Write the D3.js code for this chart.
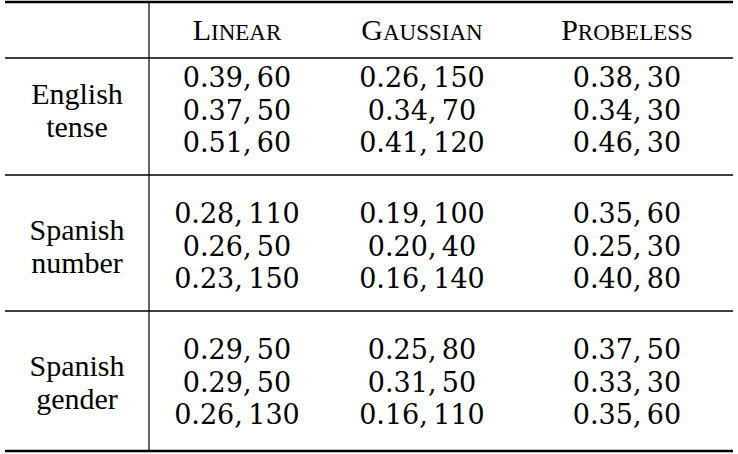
<!DOCTYPE html>
<html lang="en">
<head>
<meta charset="UTF-8">
<title>Probe results table</title>
<script src="https://d3js.org/d3.v7.min.js"></script>
<style>
  body { margin: 0; background: #fff; }
  text { font-family: "Liberation Serif", "Times New Roman", serif; fill: #000; }
  .num { font-family: "DejaVu Serif", "Liberation Serif", serif; }
</style>
</head>
<body>
<div id="chart"></div>
<script>
const methods = ["Linear", "Gaussian", "Probeless"];
const groups = [["English", "tense"], ["Spanish", "number"], ["Spanish", "gender"]];
// one row of [value, size] per method, three rows per group
const englishTense = [
  [[0.39, 60], [0.26, 150], [0.38, 30]],
  [[0.37, 50], [0.34, 70], [0.34, 30]],
  [[0.51, 60], [0.41, 120], [0.46, 30]]
];
const spanishNumber = [
  [[0.28, 110], [0.19, 100], [0.35, 60]],
  [[0.26, 50], [0.20, 40], [0.25, 30]],
  [[0.23, 150], [0.16, 140], [0.40, 80]]
];
const spanishGender = [
  [[0.29, 50], [0.25, 80], [0.37, 50]],
  [[0.29, 50], [0.31, 50], [0.33, 30]],
  [[0.26, 130], [0.16, 110], [0.35, 60]]
];
const groupData = [englishTense, spanishNumber, spanishGender];

const W = 738, H = 454;
const svg = d3.select("#chart").append("svg").attr("width", W).attr("height", H);

const labelX = 77, divX = 149;
const colX = d3.scaleOrdinal().domain(methods).range([237, 422, 627]);

// vertical layout: row index -> centre, plus a gap per group
const rowStep = 32.5, groupGap = 38.5;
const rowY = d3.scaleLinear().domain([0, 1]).range([77, 77 + rowStep]);
const centre = (g, r) => rowY(g * 3 + r) + g * groupGap;

const rule = (y, w) => svg.append("line").attr("x1", 5).attr("x2", 733)
  .attr("y1", y).attr("y2", y).attr("stroke", "#000").attr("stroke-width", w);
rule(2, 2.4);
rule(58, 1.4);
rule(centre(0, 2) + 33, 1.4);
rule(centre(1, 2) + 33, 1.4);
rule(451, 2.4);
svg.append("line").attr("x1", divX).attr("x2", divX).attr("y1", 2).attr("y2", 451)
  .attr("stroke", "#000").attr("stroke-width", 1.2);

// header in small caps
methods.forEach(m => {
  const t = svg.append("text").attr("x", colX(m)).attr("y", 40).attr("text-anchor", "middle");
  t.append("tspan").attr("font-size", 30).text(m[0]);
  t.append("tspan").attr("font-size", 23).text(m.slice(1).toUpperCase());
});

groups.forEach((g, gi) => {
  const mid = centre(gi, 1);
  svg.append("text").attr("text-anchor", "middle").attr("font-size", 30)
    .selectAll("tspan").data(g).join("tspan")
    .attr("x", labelX).attr("y", (d, i) => mid - 6 + i * 33)
    .text(d => d);
  groupData[gi].forEach((row, ri) => {
    row.forEach((cell, ci) => {
      svg.append("text").attr("class", "num")
        .attr("x", colX(methods[ci])).attr("y", centre(gi, ri) + 10)
        .attr("text-anchor", "middle").attr("font-size", 27)
        .text(d3.format(".2f")(cell[0]) + ",\u2009" + cell[1]);
    });
  });
});
</script>
</body>
</html>
